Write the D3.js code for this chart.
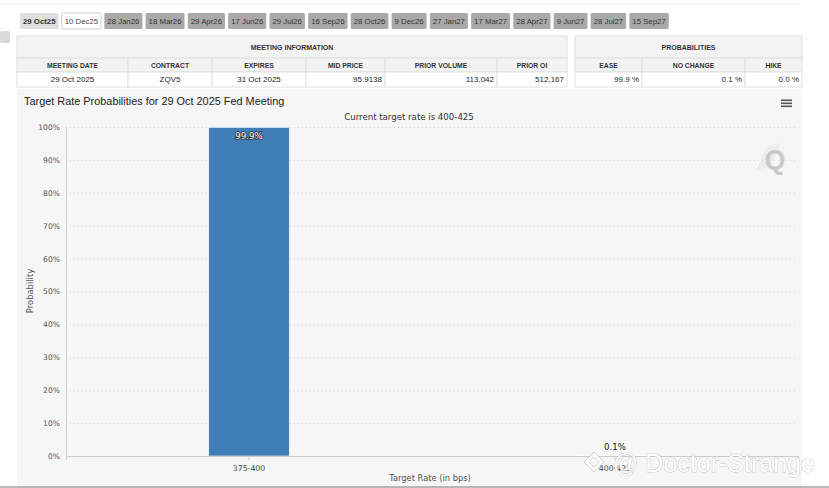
<!DOCTYPE html>
<html>
<head>
<meta charset="utf-8">
<script src="https://cdn.jsdelivr.net/npm/d3@7"></script>
<style>
  html, body { margin: 0; padding: 0; background: #fff; }
  svg { display: block; }
  .hc { font-family: "DejaVu Sans", "Lucida Grande", sans-serif; }
  .hv { font-family: "Liberation Sans", Arial, Helvetica, sans-serif; }
</style>
</head>
<body>
<svg id="chart" width="829" height="488"></svg>
<script>
// ---- data ----
const tabLabels = ["29 Oct25", "10 Dec25", "28 Jan26", "18 Mar26", "29 Apr26", "17 Jun26", "29 Jul26",
  "16 Sep26", "28 Oct26", "9 Dec26", "27 Jan27", "17 Mar27", "28 Apr27", "9 Jun27", "28 Jul27", "15 Sep27"];
const meetingHeaders = ["MEETING DATE", "CONTRACT", "EXPIRES", "MID PRICE", "PRIOR VOLUME", "PRIOR OI"];
const meetingValues = ["29 Oct 2025", "ZQV5", "31 Oct 2025", "95.9138", "113,042", "512,167"];
const probHeaders = ["EASE", "NO CHANGE", "HIKE"];
const probValues = ["99.9 %", "0.1 %", "0.0 %"];
const categories = ["375-400", "400-425"];
const probabilities = [99.9, 0.1];
const yTicks = [0, 10, 20, 30, 40, 50, 60, 70, 80, 90, 100];

const svg = d3.select("#chart");

// top dotted rule
svg.append("line")
    .attr("x1", 0).attr("x2", 800).attr("y1", 3.5).attr("y2", 3.5)
    .attr("stroke", "#ddd").attr("stroke-dasharray", "1,1");

// ---- meeting tabs ----
let tx = 20;
tabLabels.forEach((label, i) => {
    const g = svg.append("g");
    const t = g.append("text")
        .attr("class", "hv")
        .attr("y", 24)
        .attr("font-size", 7.8)
        .attr("fill", i === 1 ? "#444" : "#333")
        .attr("font-weight", i === 0 ? "bold" : "normal")
        .text(label);
    const w = t.node().getComputedTextLength() + 6;
    g.insert("rect", "text")
        .attr("x", tx).attr("y", 13)
        .attr("width", w).attr("height", 16)
        .attr("rx", 1.5)
        .attr("fill", i === 0 ? "#dedede" : (i === 1 ? "#fff" : "#a9a9a9"))
        .attr("stroke", i === 1 ? "#ccc" : "none");
    t.attr("x", tx + 3);
    tx += w + 3.2;
});

// small grey square at the left
svg.append("rect").attr("x", 0).attr("y", 31).attr("width", 10).attr("height", 12)
    .attr("rx", 2).attr("fill", "#d9d9d9");

// ---- tables ----
function drawTable(x0, cols, title, headers, values, aligns) {
    const x1 = cols[cols.length - 1];
    const g = svg.append("g");
    g.append("rect").attr("x", x0).attr("y", 36).attr("width", x1 - x0).attr("height", 22)
        .attr("fill", "#f3f3f3").attr("stroke", "#e0e0e0");
    g.append("text").attr("class", "hv")
        .attr("x", (x0 + x1) / 2).attr("y", 50)
        .attr("text-anchor", "middle").attr("font-size", 7).attr("font-weight", "bold")
        .attr("fill", "#333").text(title);
    const edges = [x0].concat(cols);
    headers.forEach((h, i) => {
        const a = edges[i], b = edges[i + 1];
        g.append("rect").attr("x", a).attr("y", 58).attr("width", b - a).attr("height", 14)
            .attr("fill", "#f3f3f3").attr("stroke", "#e0e0e0");
        g.append("rect").attr("x", a).attr("y", 72).attr("width", b - a).attr("height", 15)
            .attr("fill", "#fff").attr("stroke", "#e0e0e0");
        g.append("text").attr("class", "hv")
            .attr("x", (a + b) / 2).attr("y", 67.5)
            .attr("text-anchor", "middle").attr("font-size", 6.8).attr("font-weight", "bold")
            .attr("fill", "#333").text(h);
        const right = aligns[i] === "right";
        g.append("text").attr("class", "hv")
            .attr("x", right ? b - 3 : (a + b) / 2).attr("y", 82)
            .attr("text-anchor", right ? "end" : "middle").attr("font-size", 8)
            .attr("fill", "#222").text(values[i]);
    });
}
drawTable(17, [128, 212, 306, 385, 497, 567], "MEETING INFORMATION", meetingHeaders, meetingValues,
    ["center", "center", "center", "right", "right", "right"]);
drawTable(575, [642, 745, 802], "PROBABILITIES", probHeaders, probValues, ["right", "right", "right"]);

// ---- chart container ----
svg.append("rect").attr("x", 17).attr("y", 89).attr("width", 785).attr("height", 399)
    .attr("rx", 2).attr("fill", "#f6f6f6");

svg.append("text").attr("class", "hv")
    .attr("x", 24).attr("y", 104.5)
    .attr("font-size", 10.9).attr("fill", "#222")
    .text("Target Rate Probabilities for 29 Oct 2025 Fed Meeting");

svg.append("text").attr("class", "hc")
    .attr("x", 409).attr("y", 120)
    .attr("text-anchor", "middle").attr("font-size", 8.6).attr("fill", "#333")
    .text("Current target rate is 400-425");

// hamburger menu
[99.5, 102.5, 105.5].forEach(yy => {
    svg.append("rect").attr("x", 781).attr("y", yy).attr("width", 11).attr("height", 1.6).attr("fill", "#555");
});

// Q watermark
const q = svg.append("g");
for (let k = 0; k < 7; k++) {
    q.append("line")
        .attr("x1", 757 + k * 2).attr("y1", 170 - k * 0.5)
        .attr("x2", 768 + k * 2).attr("y2", 146 - k * 0.5)
        .attr("stroke", "#e2e2e2").attr("stroke-width", 0.8);
}
q.append("text").attr("class", "hv")
    .attr("x", 775).attr("y", 169).attr("text-anchor", "middle")
    .attr("font-size", 27).attr("font-weight", "bold")
    .attr("fill", "#c9c9c9").text("Q");

// ---- scales ----
const x = d3.scaleBand().domain(categories).range([66, 798]);
const y = d3.scaleLinear().domain([0, 100]).range([456, 127]);
const barW = x.bandwidth() * 0.22;

// grid
svg.append("g").selectAll("line").data(yTicks.filter(d => d > 0)).join("line")
    .attr("x1", 66).attr("x2", 798)
    .attr("y1", d => y(d) + 0.5).attr("y2", d => y(d) + 0.5)
    .attr("stroke", "#d4d4d4").attr("stroke-dasharray", "1,3");

// y axis
const yAxis = svg.append("g")
    .attr("transform", "translate(66,0)")
    .call(d3.axisLeft(y).tickValues(yTicks).tickFormat(d => d + "%").tickSize(0).tickPadding(6));
yAxis.select(".domain").attr("stroke", "#ccc");
yAxis.selectAll("text").attr("class", "hc").attr("font-size", 7.6).attr("fill", "#555");

// bars
svg.append("g").selectAll("rect").data(probabilities).join("rect")
    .attr("x", (d, i) => x(categories[i]) + x.bandwidth() / 2 - barW / 2)
    .attr("y", d => y(d))
    .attr("width", barW)
    .attr("height", d => y(0) - y(d))
    .attr("fill", "#3f7db6")
    .attr("stroke", "#fff").attr("stroke-width", 0.6);

// x axis
const xAxis = svg.append("g")
    .attr("transform", "translate(0,456)")
    .call(d3.axisBottom(x).tickSize(4).tickPadding(5));
xAxis.select(".domain").attr("stroke", "#ccc");
xAxis.selectAll(".tick line").attr("stroke", "#ccc");
xAxis.selectAll("text").attr("class", "hc").attr("font-size", 7.8).attr("fill", "#444");

// data labels
svg.append("g").selectAll("text").data(probabilities).join("text")
    .attr("class", "hc")
    .attr("x", (d, i) => x(categories[i]) + x.bandwidth() / 2)
    .attr("y", d => d > 50 ? y(d) + 12 : y(d) - 6)
    .attr("text-anchor", "middle").attr("font-size", 8.6)
    .attr("fill", d => d > 50 ? "#fff" : "#222")
    .attr("stroke", d => d > 50 ? "#333" : "none").attr("stroke-width", 1.6)
    .attr("paint-order", "stroke")
    .text(d => d + "%");

// axis titles
svg.append("text").attr("class", "hc")
    .attr("transform", "translate(33,291) rotate(-90)")
    .attr("text-anchor", "middle").attr("font-size", 8.4).attr("fill", "#555")
    .text("Probability");
svg.append("text").attr("class", "hc")
    .attr("x", 430).attr("y", 481)
    .attr("text-anchor", "middle").attr("font-size", 8.3).attr("fill", "#555")
    .text("Target Rate (in bps)");

// image watermark
const wm = svg.append("g");
wm.append("path")
    .attr("d", "M584,462 l10,-10 l10,10 l-10,10 z M589,462 l5,-5 l5,5 l-5,5 z")
    .attr("fill", "#fff").attr("stroke", "#bbb").attr("stroke-width", 0.7).attr("fill-rule", "evenodd");
wm.append("text").attr("class", "hv")
    .attr("x", 613).attr("y", 472)
    .attr("font-size", 25).attr("fill", "#fff")
    .attr("stroke", "#aaa").attr("stroke-width", 0.6).attr("paint-order", "stroke")
    .text("@ Doctor-Strange");

// bottom border line
svg.append("line").attr("x1", 0).attr("x2", 829).attr("y1", 487).attr("y2", 487)
    .attr("stroke", "#777").attr("stroke-width", 1.2);
</script>
</body>
</html>
